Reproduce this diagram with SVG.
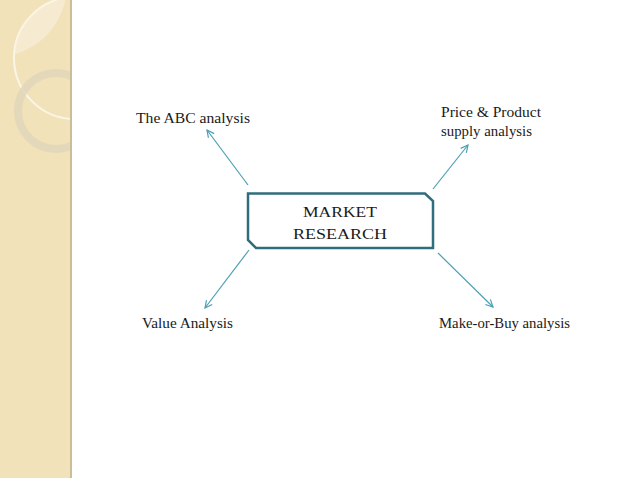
<svg xmlns="http://www.w3.org/2000/svg" width="638" height="478" viewBox="0 0 638 478">
<defs>
<style>
.lbl{font-family:"Liberation Serif","Times New Roman",serif;font-size:15.5px;fill:#1a1a1a}
.box{fill:#ffffff;stroke:#2f6e7d;stroke-width:2.5}
.conn{stroke:#4aa0b3;stroke-width:1.2;fill:none}
</style>
<marker id="ah" viewBox="0 0 10 10" refX="9" refY="5" markerWidth="9" markerHeight="9" orient="auto" markerUnits="userSpaceOnUse">
<path d="M1,1 L9,5 L1,9" fill="none" stroke="#4aa0b3" stroke-width="1.3"/>
</marker>
<clipPath id="side"><rect x="0" y="0" width="71" height="478"/></clipPath>
<clipPath id="big"><circle cx="75" cy="58" r="61"/></clipPath>
</defs>
<rect width="638" height="478" fill="#ffffff"/>
<g id="sidebar" clip-path="url(#side)">
<rect x="0" y="0" width="71" height="478" fill="#f2e2b9"/>
<circle cx="-5" cy="-15" r="72" fill="#f6ead0" clip-path="url(#big)"/>
<circle cx="75" cy="58" r="61" fill="none" stroke="#fbf5e6" stroke-width="2"/>
<circle cx="56" cy="111" r="38" fill="none" stroke="#e2d6bb" stroke-width="8" opacity="0.85"/>
</g>
<rect x="70" y="0" width="2" height="478" fill="#cbbd98"/>
<g id="connectors">
<line class="conn" x1="248" y1="185" x2="207" y2="130" marker-end="url(#ah)"/>
<line class="conn" x1="433" y1="189" x2="468" y2="145" marker-end="url(#ah)"/>
<line class="conn" x1="249" y1="250" x2="205" y2="308" marker-end="url(#ah)"/>
<line class="conn" x1="438" y1="253" x2="493" y2="307" marker-end="url(#ah)"/>
</g>
<g id="market-research">
<path class="box" d="M248,193.5 L425,193.5 L433,201 L433,248 L256,248 L248,240 Z"/>
<text class="lbl" x="303" y="216.5" font-size="18" textLength="74" lengthAdjust="spacingAndGlyphs">MARKET</text>
<text class="lbl" x="293" y="239" font-size="18" textLength="94" lengthAdjust="spacingAndGlyphs">RESEARCH</text>
</g>
<g id="abc">
<text class="lbl" x="136" y="122.5" textLength="114" lengthAdjust="spacingAndGlyphs">The ABC analysis</text>
</g>
<g id="price">
<text class="lbl" x="441" y="117" textLength="100" lengthAdjust="spacingAndGlyphs">Price &amp; Product</text>
<text class="lbl" x="441" y="135.5" textLength="91" lengthAdjust="spacingAndGlyphs">supply analysis</text>
</g>
<g id="value">
<text class="lbl" x="142" y="327.5" textLength="91" lengthAdjust="spacingAndGlyphs">Value Analysis</text>
</g>
<g id="makebuy">
<text class="lbl" x="439" y="327.5" textLength="131" lengthAdjust="spacingAndGlyphs">Make-or-Buy analysis</text>
</g>
</svg>
